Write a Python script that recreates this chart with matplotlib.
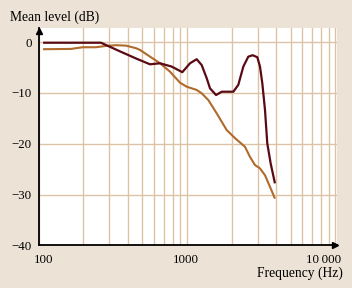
import matplotlib
matplotlib.use("Agg")
import matplotlib.pyplot as plt
import matplotlib.transforms as mtransforms
from matplotlib.ticker import FixedLocator, NullFormatter

# Data
dark_freq = [107, 263, 353, 453, 563, 658, 788, 930, 1048, 1162, 1256, 1358, 1430,
             1570, 1715, 2053, 2218, 2398, 2590, 2773, 2980, 3106, 3220, 3357, 3477,
             3667, 3918]
dark_db = [-0.1, -0.1, -1.8, -3.2, -4.35, -4.15, -4.8, -5.9, -4.15, -3.35, -4.5, -7.1,
           -9.1, -10.4, -9.75, -9.75, -8.4, -4.8, -2.85, -2.56, -2.96, -4.8, -8.1,
           -13.35, -19.9, -23.9, -27.8]

orange_freq = [107, 165, 198, 243, 284, 332, 388, 453, 482, 563, 658, 768, 897, 995,
               1162, 1256, 1393, 1585, 1852, 2108, 2461, 2660, 2876, 3106, 3357, 3630,
               3918]
orange_db = [-1.38, -1.32, -0.99, -0.99, -0.73, -0.59, -0.67, -1.18, -1.52, -2.84,
             -4.14, -5.8, -7.97, -8.76, -9.4, -10.06, -11.4, -14.0, -17.3, -18.9,
             -20.6, -22.6, -24.2, -24.85, -26.2, -28.5, -30.8]

y_ticks = [0, -10, -20, -30, -40]
y_labels = ["0", "\u221210", "\u221220", "\u221230", "\u221240"]
x_ticks = [100, 1000, 10000]
x_labels = ["100", "1000", "10\u2009000"]
x_minor = [200, 300, 400, 500, 600, 700, 800, 900,
           2000, 3000, 4000, 5000, 6000, 7000, 8000, 9000]

BG = "#EDE2D6"
GRID = "#DCC3A6"
DARK = "#5A0A14"
ORANGE = "#AF6A2C"

plt.rcParams['font.family'] = ['Liberation Serif', 'DejaVu Serif']

fig = plt.figure(figsize=(3.52, 2.88), dpi=100, facecolor=BG)
ax = fig.add_axes([38.7/352, 1-245.3/288, (336.7-38.7)/352, (245.3-28)/288])
ax.set_facecolor("white")
ax.set_xscale("log")
ax.set_xlim(100, 10220)
ax.set_ylim(-40, 2.8)

ax.xaxis.set_major_locator(FixedLocator(x_ticks))
ax.xaxis.set_minor_locator(FixedLocator(x_minor))
ax.xaxis.set_minor_formatter(NullFormatter())
ax.set_xticklabels(x_labels)
ax.set_yticks(y_ticks)
ax.set_yticklabels(y_labels)

ax.grid(True, which="both", axis="x", color=GRID, lw=1.0)
ax.grid(True, which="major", axis="y", color=GRID, lw=1.0)
ax.set_axisbelow(True)
ax.tick_params(which="both", length=0, labelsize=9.3, colors="black")
ax.tick_params(axis="x", pad=6)
ax.tick_params(axis="y", pad=5)

for s in ["top", "right"]:
    ax.spines[s].set_visible(False)
for s in ["left", "bottom"]:
    ax.spines[s].set_color("black")
    ax.spines[s].set_linewidth(1.3)

ax.plot(orange_freq, orange_db, color=ORANGE, lw=1.5, solid_capstyle="butt")
ax.plot(dark_freq, dark_db, color=DARK, lw=1.6, solid_capstyle="butt")

# axis arrows
off_up = mtransforms.ScaledTranslation(0, -2.5/100, fig.dpi_scale_trans)
off_rt = mtransforms.ScaledTranslation(-1.5/100, 0, fig.dpi_scale_trans)
ax.plot([0], [1], marker="^", color="black", ms=5, transform=ax.transAxes + off_up, clip_on=False)
ax.plot([1], [0], marker=">", color="black", ms=5, transform=ax.transAxes + off_rt, clip_on=False)

# shift x tick labels to match reference placement
shifts = [5, -1, -12]
for lab, dx in zip(ax.get_xticklabels(), shifts):
    lab.set_transform(lab.get_transform() + mtransforms.ScaledTranslation(dx/100, 0, fig.dpi_scale_trans))

fig.text(10/352, 1-17/288, "Mean level (dB)", fontsize=9.8, va="center", ha="left")
fig.text(343/352, 1-273/288, "Frequency (Hz)", fontsize=9.8, va="center", ha="right")

fig.savefig("out.png", dpi=100, facecolor=BG)
